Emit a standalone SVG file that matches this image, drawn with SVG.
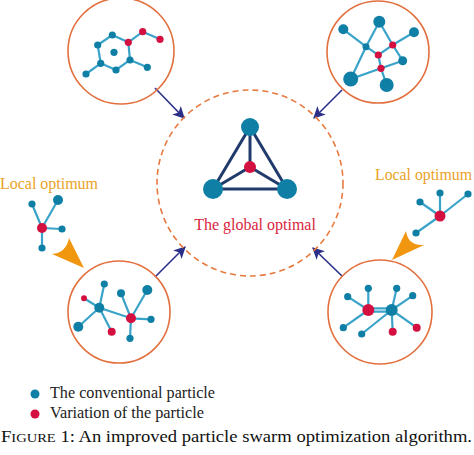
<svg xmlns="http://www.w3.org/2000/svg" width="474" height="455" viewBox="0 0 474 455">
<defs>
<style>
.ring{fill:none;stroke:#e2703e;stroke-width:1.6}
.dash{fill:none;stroke:#e8793f;stroke-width:1.6;stroke-dasharray:6 4}
.b{fill:#0f7fa5}
.r{fill:#d3103f}
.e{stroke:#3aa3c9;stroke-width:2.2;fill:none}
.tri{stroke:#1f3a6b;stroke-width:3;fill:none}
.conn{stroke:#2b2f8a;stroke-width:1.6;fill:none}
.lbl{font-family:"Liberation Serif",serif;font-size:16px}
.oa{fill:#f0960f}
</style>
<marker id="ah" viewBox="0 0 10 10" refX="9" refY="5" markerWidth="12" markerHeight="12" markerUnits="userSpaceOnUse" orient="auto">
<path d="M0,0 L10,5 L0,10 L2.5,5 Z" fill="#2b2f8a"/>
</marker>
</defs>
<rect width="474" height="455" fill="#fff"/>

<g id="connectors">
<line class="conn" x1="155" y1="88" x2="184" y2="118" marker-end="url(#ah)"/>
<line class="conn" x1="342" y1="90" x2="314" y2="118" marker-end="url(#ah)"/>
<line class="conn" x1="155" y1="277" x2="185" y2="247" marker-end="url(#ah)"/>
<line class="conn" x1="342" y1="276" x2="313" y2="248" marker-end="url(#ah)"/>
<path class="oa" d="M69,238 L84,268 L52,254 Q66,253 69,238 Z"/>
<path class="oa" d="M406,231 L392,260 L424,245 Q408,246 406,231 Z"/>
</g>

<g id="global">
<circle class="dash" cx="250" cy="183" r="93"/>
<line class="tri" x1="250" y1="127" x2="213" y2="189"/>
<line class="tri" x1="250" y1="127" x2="287" y2="189"/>
<line class="tri" x1="213" y1="189" x2="287" y2="189"/>
<line class="tri" x1="250" y1="127" x2="250" y2="167"/>
<line class="tri" x1="213" y1="189" x2="250" y2="167"/>
<line class="tri" x1="287" y1="189" x2="250" y2="167"/>
<circle class="b" cx="250" cy="127" r="9"/>
<circle class="b" cx="213" cy="189" r="10"/>
<circle class="b" cx="287" cy="189" r="10"/>
<circle class="r" cx="250" cy="167" r="6"/>
<text class="lbl" x="255" y="230" text-anchor="middle" fill="#d8253c">The global optimal</text>
</g>

<g id="topleft">
<circle class="ring" cx="121" cy="51" r="53"/>
<path class="e" d="M112.3,35 L97.7,45 L100.7,63.3 L116,70 L130,60 L128.3,42.3 Z M100.7,63.3 L86,74 M130,60 L147.3,67.3 M128.3,42.3 L142.7,31.7 L160,39.3"/>
<circle class="b" cx="112.3" cy="35" r="3.6"/>
<circle class="b" cx="97.7" cy="45" r="3.6"/>
<circle class="b" cx="100.7" cy="63.3" r="3.6"/>
<circle class="b" cx="116" cy="70" r="3.6"/>
<circle class="b" cx="130" cy="60" r="3.6"/>
<circle class="b" cx="114" cy="52.3" r="3.6"/>
<circle class="b" cx="86" cy="74" r="3.6"/>
<circle class="b" cx="147.3" cy="67.3" r="3.6"/>
<circle class="r" cx="128.3" cy="42.3" r="3.6"/>
<circle class="r" cx="142.7" cy="31.7" r="3.6"/>
<circle class="r" cx="160" cy="39.3" r="3.6"/>
</g>

<g id="topright">
<circle class="ring" cx="378" cy="52" r="51"/>
<path class="e" d="M343.3,29.3 L366,46.7 M379.3,21.7 L366,46.7 M379.3,21.7 L392.7,45 L414,32.3 M366,46.7 L378.3,55 L392.7,45 L402.7,60.7 L381,68.3 L378.3,55 M381,68.3 L350.7,79 L366,46.7 M381,68.3 L386.7,85"/>
<circle class="b" cx="343.3" cy="29.3" r="5"/>
<circle class="b" cx="379.3" cy="21.7" r="6"/>
<circle class="b" cx="414" cy="32.3" r="5"/>
<circle class="b" cx="366" cy="46.7" r="3.5"/>
<circle class="b" cx="402.7" cy="60.7" r="4.5"/>
<circle class="b" cx="350.7" cy="79" r="7.5"/>
<circle class="b" cx="386.7" cy="85" r="7"/>
<circle class="r" cx="392.7" cy="45" r="3.6"/>
<circle class="r" cx="378.3" cy="55" r="3.6"/>
<circle class="r" cx="381" cy="68.3" r="3.6"/>
</g>

<g id="bottomleft">
<circle class="ring" cx="119" cy="312" r="51"/>
<path class="e" d="M99.3,307.7 L104.3,284 M99.3,307.7 L84,298.3 M99.3,307.7 L78.3,326.7 M99.3,307.7 L111.7,331.7 M99.3,307.7 L131,318.3 L121,293.3 M131,318.3 L147.3,290 M131,318.3 L151,319.3 M131,318.3 L130,338.3"/>
<circle class="b" cx="99.3" cy="307.7" r="5"/>
<circle class="b" cx="104.3" cy="284" r="3.6"/>
<circle class="b" cx="78.3" cy="326.7" r="5"/>
<circle class="b" cx="121" cy="293.3" r="4"/>
<circle class="b" cx="147.3" cy="290" r="5"/>
<circle class="b" cx="151" cy="319.3" r="3.6"/>
<circle class="b" cx="130" cy="338.3" r="3.6"/>
<circle class="r" cx="84" cy="298.3" r="3"/>
<circle class="r" cx="111.7" cy="331.7" r="4"/>
<circle class="r" cx="131" cy="318.3" r="5"/>
</g>

<g id="bottomright">
<circle class="ring" cx="380" cy="312" r="52"/>
<path class="e" d="M368.3,310 L368.3,288.3 M368.3,310 L347.7,296.7 M368.3,310 L343.3,327.7 M368.3,308.3 L391.7,308.3 M368.3,311.7 L391.7,311.7 M391.7,310 L396.7,288.3 M391.7,310 L412.7,295.7 M391.7,310 L361.7,334 M391.7,310 L392.7,331.7 M391.7,310 L416.7,327.7"/>
<circle class="b" cx="391.7" cy="310" r="6"/>
<circle class="b" cx="368.3" cy="288.3" r="3.6"/>
<circle class="b" cx="347.7" cy="296.7" r="3.6"/>
<circle class="b" cx="343.3" cy="327.7" r="3.6"/>
<circle class="b" cx="396.7" cy="288.3" r="3.6"/>
<circle class="b" cx="412.7" cy="295.7" r="3.6"/>
<circle class="b" cx="361.7" cy="334" r="3.6"/>
<circle class="r" cx="368.3" cy="310" r="6"/>
<circle class="r" cx="392.7" cy="331.7" r="4"/>
<circle class="r" cx="416.7" cy="327.7" r="4"/>
</g>

<g id="localleft">
<text class="lbl" x="0" y="189" fill="#e9a227" textLength="98" lengthAdjust="spacingAndGlyphs">Local optimum</text>
<path class="e" d="M42,228 L32,204 M42,228 L58,200 M42,228 L62,229 M42,228 L42,248"/>
<circle class="b" cx="32" cy="204" r="3.6"/>
<circle class="b" cx="58" cy="200" r="5"/>
<circle class="b" cx="62" cy="229" r="3.6"/>
<circle class="b" cx="42" cy="248" r="3.6"/>
<circle class="r" cx="42" cy="228" r="5"/>
</g>

<g id="localright">
<text class="lbl" x="375" y="180" fill="#e9a227" textLength="97" lengthAdjust="spacingAndGlyphs">Local optimum</text>
<path class="e" d="M440,216 L420,202 M440,216 L440,193 M440,216 L468,194 M440,216 L416,233"/>
<circle class="b" cx="420" cy="202" r="3.6"/>
<circle class="b" cx="440" cy="193" r="3.6"/>
<circle class="b" cx="468" cy="194" r="3.6"/>
<circle class="b" cx="416" cy="233" r="3.6"/>
<circle class="r" cx="440" cy="216" r="5.5"/>
</g>

<g id="legend">
<circle class="b" cx="35" cy="394" r="4.5"/>
<text class="lbl" x="50" y="398" fill="#222" textLength="165" lengthAdjust="spacingAndGlyphs">The conventional particle</text>
<circle class="r" cx="35" cy="414" r="4.5"/>
<text class="lbl" x="50" y="418" fill="#222" textLength="154" lengthAdjust="spacingAndGlyphs">Variation of the particle</text>
</g>

<g id="caption">
<text x="1" y="442" font-family="Liberation Serif,serif" font-size="16" fill="#111" textLength="471" lengthAdjust="spacingAndGlyphs">F<tspan font-size="12.5">IGURE</tspan> 1: An improved particle swarm optimization algorithm.</text>
</g>
</svg>
